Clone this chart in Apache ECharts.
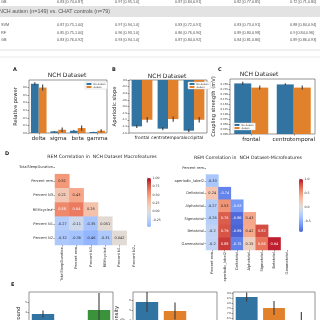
<!DOCTYPE html>
<html lang="en">
<head>
<meta charset="UTF-8">
<title>NCH Dataset</title>
<script src="https://cdn.jsdelivr.net/npm/echarts@6/dist/echarts.min.js"></script>
<style>
  html, body { margin: 0; padding: 0; background: #fff; }
  #chart_main { width: 320px; height: 320px; }
</style>
</head>
<body>
<div id="chart_main"></div>
<script>
// ---- table (top) ----
var tableTopRow = ['GB', '0.83 [0.74,0.87]', '0.97 [0.95,1.0]', '0.87 [0.84,0.91]', '0.82 [0.77,0.85]', '0.72 [0.71,0.80]'];
var tableGroupTitle = 'NCH autism (n=149) vs. CHAT controls (n=79)';
var tableRows = [
  ['SVM', '0.87 [0.75,1.00]', '0.97 [0.94,1.0]', '0.83 [0.72,0.91]', '0.83 [0.73,0.91]', '0.88 [0.84,0.94]'],
  ['RF', '0.85 [0.75,1.00]', '0.96 [0.93,1.0]', '0.86 [0.76,0.90]', '0.89 [0.80,0.98]', '0.9 [0.84,0.96]'],
  ['GB', '0.83 [0.76,0.92]', '0.93 [0.94,1.0]', '0.87 [0.84,0.92]', '0.84 [0.81,0.86]', '0.89 [0.86,0.93]']
];

var groupNames = ['No Autism', 'Autism'];

// ---- A: relative power ----
var bandNames = ['delta', 'sigma', 'beta', 'gamma'];
var powerNoAutism = [0.65, 0.022, 0.03, 0.013];
var powerNoAutismErr = [0.02, 0.005, 0.008, 0.004];
var powerAutism = [0.60, 0.043, 0.065, 0.03];
var powerAutismErr = [0.04, 0.03, 0.035, 0.02];

// ---- B: aperiodic slope ----
var slopeRegions = ['frontal', 'centrotemporal', 'occipital'];
var slopeNoAutism = [-1.40, -1.47, -1.53];
var slopeNoAutismErr = [0.05, 0.05, 0.05];
var slopeAutism = [-1.20, -1.18, -1.20];
var slopeAutismErr = [0.08, 0.08, 0.08];

// ---- C: coupling strength ----
var couplingRegions = ['frontal', 'centrotemporal'];
var couplingNoAutism = [0.253, 0.248];
var couplingNoAutismErr = [0.008, 0.006];
var couplingAutism = [0.232, 0.232];
var couplingAutismErr = [0.01, 0.01];

// ---- D: REM correlations (lower triangle) ----
var macroNames = ['TotalSleepDuration', 'Percent rem', 'Percent N3', 'REMcycle#', 'Percent N1', 'Percent N2'];
var macroCorr = [
  [],
  [0.51],
  [0.21, 0.43],
  [0.58, 0.64, 0.26],
  [-0.27, -0.11, -0.35, 0.051],
  [-0.32, -0.36, -0.46, -0.31, 0.042]
];
var macroMin = -0.46;
var microNames = ['Percent rem', 'aperiodic_label2', 'Deltatotal', 'Alphatotal', 'Sigmatotal', 'Betatotal', 'Gammatotal'];
var microCorr = [
  [],
  [-0.33],
  [0.24, -0.74],
  [-0.27, 0.53, -0.63],
  [-0.26, 0.76, -0.86, 0.43],
  [-0.2, 0.79, -0.89, 0.42, 0.82],
  [-0.2, 0.88, -0.75, 0.15, 0.66, 0.94]
];
var microMin = -0.89;

// ---- E ----
var eGroups = ['NCH no autism', 'NCH autism', 'CHAT'];
var eRound = [3.8, 2.0, 4.2];
var eRoundErr = [0.35, 0.5, 1.7];
var eDensity = [5.8, 4.9, 3.0];
var eDensityErr = [1.0, 0.85, 0.8];
var ePercent = [8.6, 7.5, 6.2];
var ePercentErr = [0.45, 0.7, 0.9];

// colours
var cBlue = '#3274a1', cOrange = '#e1812c', cGreen = '#3a923a';
var fontMain = 'DejaVu Sans';

// coolwarm colormap stops
var cwStops = [[59,76,192],[77,104,215],[98,130,234],[119,154,247],[141,176,254],[163,194,255],
  [184,208,249],[204,217,238],[221,221,221],[236,211,197],[245,196,173],[247,177,148],
  [244,154,123],[236,127,99],[222,96,77],[203,62,56],[180,4,38]];
function coolwarm(t) {
  t = Math.max(0, Math.min(1, t));
  var p = t * (cwStops.length - 1), i = Math.min(Math.floor(p), cwStops.length - 2), f = p - i;
  var a = cwStops[i], b = cwStops[i + 1];
  return [0, 1, 2].map(function(k) { return Math.round(a[k] + (b[k] - a[k]) * f); });
}
function rgbStr(c) { return 'rgb(' + c.join(',') + ')'; }
function luminance(c) {
  var l = c.map(function(x) { x /= 255; return x <= 0.03928 ? x / 12.92 : Math.pow((x + 0.055) / 1.055, 2.4); });
  return 0.2126 * l[0] + 0.7152 * l[1] + 0.0722 * l[2];
}
// colours of the colorbar, centred at 0 (vrange 1)
function cmapSlice(vmin, vmax, n) {
  var arr = [];
  for (var k = 0; k < n; k++) {
    var v = vmin + (vmax - vmin) * k / (n - 1);
    arr.push(rgbStr(coolwarm((v + 1) / 2)));
  }
  return arr;
}
function corrData(mat) {
  var out = [];
  mat.forEach(function(row, i) {
    row.forEach(function(v, j) {
      var c = coolwarm((v + 1) / 2);
      out.push({ value: [j, i, v], label: { color: luminance(c) > 0.408 ? '#262626' : '#ffffff' } });
    });
  });
  return out;
}
function fmt2g(v) { return String(parseFloat(Number(v).toPrecision(2))); }

// ---- grids ----
function frameGrid(g) {
  var base = { show: true, borderColor: '#4d4d4d', borderWidth: 0.6, backgroundColor: 'transparent', containLabel: false, outerBoundsMode: 'none' };
  for (var k in g) base[k] = g[k];
  return base;
}
function plainGrid(g) {
  var base = { show: false, containLabel: false, outerBoundsMode: 'none' };
  for (var k in g) base[k] = g[k];
  return base;
}
var grids = [
  frameGrid({ left: 29, top: 80, width: 78, height: 53 }),     // 0 A
  frameGrid({ left: 129, top: 80, width: 78, height: 53 }),    // 1 B
  frameGrid({ left: 230, top: 79, width: 85, height: 55 }),    // 2 C
  plainGrid({ left: 55, top: 160, width: 86, height: 85 }),    // 3 D left
  plainGrid({ left: 206, top: 162, width: 87, height: 88 }),   // 4 D right
  plainGrid({ left: 147, top: 178, width: 4, height: 50.4 }),  // 5 colorbar left
  plainGrid({ left: 299, top: 179, width: 4, height: 56 }),    // 6 colorbar right
  frameGrid({ left: 29, top: 292, width: 84, height: 60 }),    // 7 E1
  frameGrid({ left: 133, top: 292, width: 84, height: 68 }),   // 8 E2
  frameGrid({ left: 233, top: 292, width: 82, height: 91 })    // 9 E3
];

var tickStyle = { show: true, length: 1.5, lineStyle: { color: '#333', width: 0.5 } };
function catAxis(gi, cats, fs) {
  return {
    type: 'category', gridIndex: gi, data: cats,
    axisLine: { show: false }, axisTick: { show: true, alignWithLabel: true, length: 1.5, lineStyle: { color: '#333', width: 0.5 } },
    axisLabel: { fontSize: fs, color: '#222', margin: 2.5, interval: 0, fontFamily: fontMain, hideOverlap: false },
    splitLine: { show: false }
  };
}
function valAxis(gi, min, max, interval, digits, name, gap, showMax) {
  return {
    type: 'value', gridIndex: gi, min: min, max: max, interval: interval,
    axisLine: { show: false }, axisTick: tickStyle,
    axisLabel: { fontSize: 2.6, color: '#333', margin: 2, showMaxLabel: showMax, fontFamily: fontMain,
      formatter: function(v) { return v.toFixed(digits); } },
    splitLine: { show: false },
    name: name, nameLocation: 'middle', nameGap: gap,
    nameTextStyle: { fontSize: 5.2, color: '#222', fontFamily: fontMain, lineHeight: 6 }
  };
}

var xAxes = [
  catAxis(0, bandNames, 5.5),
  catAxis(1, slopeRegions, 4.4),
  catAxis(2, couplingRegions, 5.5),
  {
    type: 'category', gridIndex: 3, data: macroNames,
    axisLine: { show: false }, axisTick: { show: true, length: 1.5, alignWithLabel: true, lineStyle: { color: '#333', width: 0.5 } },
    axisLabel: { rotate: 90, fontSize: 3.6, color: '#333', margin: 2, interval: 0, fontFamily: fontMain }
  },
  {
    type: 'category', gridIndex: 4, data: microNames,
    axisLine: { show: false }, axisTick: { show: true, length: 1.5, alignWithLabel: true, lineStyle: { color: '#333', width: 0.5 } },
    axisLabel: { rotate: 90, fontSize: 3.6, color: '#333', margin: 2, interval: 0, fontFamily: fontMain }
  },
  { type: 'value', gridIndex: 5, show: false },
  { type: 'value', gridIndex: 6, show: false },
  catAxis(7, eGroups, 5),
  catAxis(8, eGroups, 5),
  catAxis(9, eGroups, 5)
];

var yAxes = [
  valAxis(0, 0, 0.7, 0.1, 1, 'Relative power', 7, false),
  valAxis(1, -1.6, 0, 0.2, 1, 'Aperiodic slope', 5, true),
  valAxis(2, 0, 0.275, 0.025, 3, 'Coupling strength (mV)', 6, false),
  {
    type: 'category', gridIndex: 3, data: macroNames, inverse: true,
    axisLine: { show: false }, axisTick: { show: true, length: 1.5, alignWithLabel: true, lineStyle: { color: '#333', width: 0.5 } },
    axisLabel: { fontSize: 3.6, color: '#333', margin: 2, interval: 0, fontFamily: fontMain }
  },
  {
    type: 'category', gridIndex: 4, data: microNames, inverse: true,
    axisLine: { show: false }, axisTick: { show: true, length: 1.5, alignWithLabel: true, lineStyle: { color: '#333', width: 0.5 } },
    axisLabel: { fontSize: 3.6, color: '#333', margin: 2, interval: 0, fontFamily: fontMain }
  },
  {
    type: 'value', gridIndex: 5, position: 'right', min: -0.5, max: 1, interval: 0.25,
    axisLine: { show: false }, axisTick: { show: true, length: 1.2, lineStyle: { color: '#333', width: 0.4 } },
    axisLabel: { fontSize: 3.2, color: '#333', margin: 1.5, showMinLabel: false, fontFamily: fontMain,
      formatter: function(v) { return v.toFixed(2); } },
    splitLine: { show: false }
  },
  {
    type: 'value', gridIndex: 6, position: 'right', min: -1, max: 1, interval: 0.5,
    axisLine: { show: false }, axisTick: { show: true, length: 1.2, lineStyle: { color: '#333', width: 0.4 } },
    axisLabel: { fontSize: 3.2, color: '#333', margin: 1.5, showMinLabel: false, fontFamily: fontMain,
      formatter: function(v) { return v.toFixed(1); } },
    splitLine: { show: false }
  },
  valAxis(7, 0, 6, 1, 0, 'Background', 4, false),
  valAxis(8, 0, 6.8, 1, 0, 'Spindle density\n(/min)', 5, false),
  valAxis(9, 0, 9.1, 0.5, 1, 'REM percent', 5, false)
];

// error bars drawn through the axis scales
function errSeries(gi, vals, errs, shift) {
  return {
    type: 'custom', xAxisIndex: gi, yAxisIndex: gi, silent: true, z: 5,
    encode: { x: 0, y: [1, 2] },
    data: vals.map(function(v, i) { return [i, v - errs[i], v + errs[i]]; }),
    renderItem: function(params, api) {
      var band = api.size([1, 0])[0];
      var lo = api.coord([api.value(0), api.value(1)]);
      var hi = api.coord([api.value(0), api.value(2)]);
      var x = lo[0] + shift * band;
      return { type: 'line', shape: { x1: x, y1: lo[1], x2: x, y2: hi[1] },
        style: { stroke: '#3c3c3c', lineWidth: 1.1 } };
    }
  };
}
function barSeries(gi, name, vals, color) {
  return {
    type: 'bar', name: name, xAxisIndex: gi, yAxisIndex: gi, data: vals,
    barGap: '0%', barCategoryGap: '20%', silent: true,
    itemStyle: { color: color }
  };
}
function eSeries(gi, vals) {
  var cols = [cBlue, cOrange, cGreen];
  return {
    type: 'bar', xAxisIndex: gi, yAxisIndex: gi, barCategoryGap: '20%', silent: true,
    data: vals.map(function(v, i) { return { value: v, itemStyle: { color: cols[i] } }; })
  };
}

var series = [
  barSeries(0, groupNames[0], powerNoAutism, cBlue),
  barSeries(0, groupNames[1], powerAutism, cOrange),
  errSeries(0, powerNoAutism, powerNoAutismErr, -0.2),
  errSeries(0, powerAutism, powerAutismErr, 0.2),
  barSeries(1, groupNames[0], slopeNoAutism, cBlue),
  barSeries(1, groupNames[1], slopeAutism, cOrange),
  errSeries(1, slopeNoAutism, slopeNoAutismErr, -0.2),
  errSeries(1, slopeAutism, slopeAutismErr, 0.2),
  barSeries(2, groupNames[0], couplingNoAutism, cBlue),
  barSeries(2, groupNames[1], couplingAutism, cOrange),
  errSeries(2, couplingNoAutism, couplingNoAutismErr, -0.2),
  errSeries(2, couplingAutism, couplingAutismErr, 0.2)
];
var macroIndex = series.length;
series.push({
  type: 'heatmap', xAxisIndex: 3, yAxisIndex: 3, data: corrData(macroCorr), silent: true,
  label: { show: true, fontSize: 3.5, fontFamily: fontMain, formatter: function(p) { return fmt2g(p.value[2]); } },
  itemStyle: { borderWidth: 0 }
});
var microIndex = series.length;
series.push({
  type: 'heatmap', xAxisIndex: 4, yAxisIndex: 4, data: corrData(microCorr), silent: true,
  label: { show: true, fontSize: 3.5, fontFamily: fontMain, formatter: function(p) { return fmt2g(p.value[2]); } },
  itemStyle: { borderWidth: 0 }
});
series.push(eSeries(7, eRound), errSeries(7, eRound, eRoundErr, 0));
series.push(eSeries(8, eDensity), errSeries(8, eDensity, eDensityErr, 0));
series.push(eSeries(9, ePercent), errSeries(9, ePercent, ePercentErr, 0));

// ---- texts: table, panel letters, titles ----
var graphics = [
  { type: 'rect', shape: { x: 0, y: 6, width: 320, height: 11 }, style: { fill: '#e3e3e3' }, silent: true },
  { type: 'line', shape: { x1: 0, y1: 50, x2: 320, y2: 50 }, style: { stroke: '#d0d0d0', lineWidth: 0.6 } },
  { type: 'line', shape: { x1: 0, y1: 57, x2: 320, y2: 57 }, style: { stroke: '#dcdcdc', lineWidth: 0.6 } }
];
var colX = [1, 57, 115, 175, 234, 290];
function tableText(txt, x, y, fs) {
  return { type: 'text', x: x, y: y, silent: true,
    style: { text: txt, fill: '#555', font: fs + 'px "Liberation Sans"', textAlign: 'left', textVerticalAlign: 'middle' } };
}
tableTopRow.forEach(function(t, k) { graphics.push(tableText(t, colX[k], 1.8, 3.8)); });
graphics.push(tableText(tableGroupTitle, -1, 11.5, 5.4));
tableRows.forEach(function(row, r) {
  var y = [25, 32.5, 40][r];
  row.forEach(function(t, k) { graphics.push(tableText(t, colX[k], y, 3.8)); });
});
function label(txt, x, y, fs, bold, align) {
  return { type: 'text', x: x, y: y, silent: true,
    style: { text: txt, fill: '#222', font: (bold ? 'bold ' : '') + fs + 'px "DejaVu Sans"',
      textAlign: align || 'left', textVerticalAlign: 'middle' } };
}
graphics.push(
  label('A', 13, 70, 5, true), label('B', 112, 70, 5, true), label('C', 218, 70, 5, true),
  label('D', 5, 154, 5, true), label('E', 11, 285, 5, true),
  label('NCH Dataset', 67, 75.5, 6, false, 'center'),
  label('NCH Dataset', 167, 76.5, 6, false, 'center'),
  label('NCH Dataset', 259, 74.5, 6, false, 'center'),
  label('REM Correlation in  NCH Dataset Macrofeatures', 102, 157, 4.6, false, 'center'),
  label('REM Correlation in  NCH Dataset-Microfeatures', 248, 158, 4.6, false, 'center')
);

function smallLegend(left, top) {
  return {
    data: groupNames, orient: 'vertical', left: left, top: top, selectedMode: false,
    itemWidth: 5, itemHeight: 2, itemGap: 1, icon: 'rect',
    padding: [1, 1.5], borderColor: '#cccccc', borderWidth: 0.5, borderRadius: 0.5, backgroundColor: '#ffffff',
    textStyle: { fontSize: 2.4, color: '#222', fontFamily: fontMain, padding: [0, 0, 0, -3] }
  };
}

var options = {
  animation: false,
  backgroundColor: '#ffffff',
  grid: grids,
  xAxis: xAxes,
  yAxis: yAxes,
  legend: [smallLegend(85, 82), smallLegend(188, 82), smallLegend(233, 123)],
  visualMap: [
    {
      type: 'continuous', seriesIndex: macroIndex, dimension: 2, min: macroMin, max: 1,
      inRange: { color: cmapSlice(macroMin, 1, 16) }, calculable: false, hoverLink: false,
      left: 147, top: 178, itemWidth: 4, itemHeight: 49, padding: 0, text: null
    },
    {
      type: 'continuous', seriesIndex: microIndex, dimension: 2, min: microMin, max: 1,
      inRange: { color: cmapSlice(microMin, 1, 16) }, calculable: false, hoverLink: false,
      left: 299, top: 179, itemWidth: 4, itemHeight: 53, padding: 0, text: null
    }
  ],
  graphic: graphics,
  series: series
};

var myChart = echarts.init(document.getElementById('chart_main'));
myChart.setOption(options);
</script>
</body>
</html>
